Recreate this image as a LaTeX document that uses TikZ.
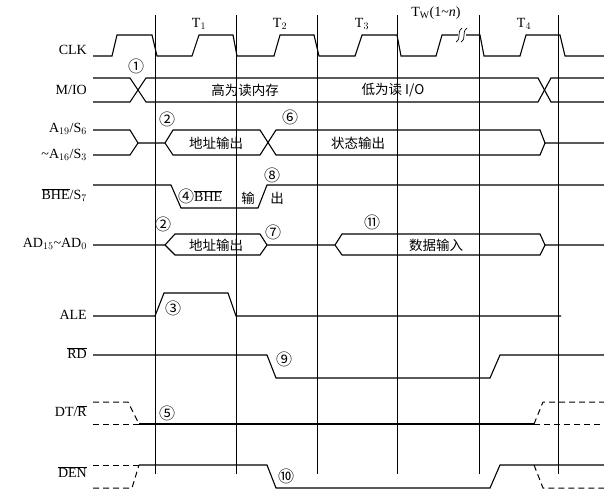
\documentclass[tikz,border=0pt]{standalone}
\usepackage{fontspec}
\setmainfont{Liberation Serif}
\newfontfamily\cjk{Noto Sans CJK SC}
\begin{document}
\begin{tikzpicture}[x=1pt,y=-1pt,
  sig/.style={line width=1.1pt},
  grid/.style={line width=0.5pt},
  dsh/.style={line width=1pt,dash pattern=on 6pt off 4pt},
  lab/.style={anchor=east,font=\fontsize{14}{15}\selectfont,inner sep=1pt},
  tx/.style={font=\cjk\fontsize{13.5}{15}\selectfont,inner sep=0pt},
  cc/.style={font=\cjk\fontsize{16}{17}\selectfont,inner sep=0pt},
  tl/.style={font=\fontsize{14}{15}\selectfont,inner sep=0pt}]
\useasboundingbox (0,0) rectangle (604,489);
\fill[white] (0,0) rectangle (604,489);
% grid
\foreach \x in {155,236,317,397,479,558} \draw[grid] (\x,15) -- (\x,474);
% T labels
\node[tl] (t1) at (199,24) {T$_1$};
\node[tl] (t2) at (280,24) {T$_2$};
\node[tl] (t3) at (362,24) {T$_3$};
\node[tl] (tw) at (436,13) {T$_{\mathrm W}$(1\char"7E\textit{n})};
\node[tl] (t4) at (524,24) {T$_4$};
% signal labels
\node[lab] (lclk) at (88,50) {CLK};
\node[lab] (lmio) at (88,90) {M/IO};
\node[lab] (la1) at (88,129) {A$_{19}$/S$_6$};
\node[lab] (la2) at (88,155) {\char"7E A$_{16}$/S$_3$};
\node[lab] (lbhe) at (88,195) {$\overline{\mathrm{BHE}}$/S$_7$};
\node[lab] (lad) at (88,244) {AD$_{15}$\char"7E AD$_0$};
\node[lab] (lale) at (88,315) {ALE};
\node[lab] (lrd) at (88,353) {$\overline{\mathrm{RD}}$};
\node[lab] (ldt) at (88,411) {DT/$\overline{\mathrm{R}}$};
\node[lab] (lden) at (88,472) {$\overline{\mathrm{DEN}}$};
% CLK
\draw[sig] (93,56) -- (112,56) -- (117,35) -- (152,35) -- (157,56) -- (192,56) -- (199,35) -- (233,35) -- (237,56)
 -- (274,56) -- (280,35) -- (314,35) -- (319,56) -- (355,56) -- (362,35) -- (397,35) -- (401,56)
 -- (436,56) -- (442,35) -- (480,35) -- (484,56) -- (520,56) -- (526,35) -- (560,35) -- (565,56) -- (604,56);
\fill[white] (458,28) rectangle (466,42);
\draw[line width=0.7pt] (456,42) .. controls (462,38) and (456,33) .. (462,28);
\draw[line width=0.7pt] (461,42) .. controls (467,38) and (461,33) .. (467,28);
% M/IO
\draw[sig] (93,78) -- (130,78) -- (146,102) -- (538,102) -- (551,78) -- (604,78);
\draw[sig] (93,102) -- (130,102) -- (146,78) -- (538,78) -- (551,102) -- (604,102);
\node[cc] (c1) at (136,66) {①};
\node[tx] (m1) at (245,90) {高为读内存};
\node[tx] (m2) at (393,90) {低为读 I/O};
% A19
\draw[sig] (93,130) -- (130,130) -- (138,143) -- (165,143) -- (173,130) -- (260,130) -- (276,155) -- (540,155) -- (545,143) -- (604,143);
\draw[sig] (93,155) -- (130,155) -- (138,143);
\draw[sig] (165,143) -- (173,155) -- (260,155) -- (276,130) -- (540,130) -- (545,143);
\node[cc] (c2) at (167,119) {②};
\node[cc] (c6) at (290,117) {⑥};
\node[tx] (a1) at (216,143) {地址输出};
\node[tx] (a2) at (358,143) {状态输出};
% BHE
\draw[sig] (93,185) -- (171,185) -- (181,208) -- (258,208) -- (267,185) -- (604,185);
\node[cc] (c4) at (186,196) {④};
\node[tl,anchor=west] (b0) at (194,196) {$\overline{\mathrm{BHE}}$};
\node[tx] (b1) at (248,198) {输};
\node[tx] (b2) at (277,198) {出};
\node[cc] (c8) at (272,175) {⑧};
% AD
\draw[sig] (93,245) -- (165,245) -- (175,234) -- (260,234) -- (267,245) -- (335,245) -- (342,234) -- (540,234) -- (545,245) -- (604,245);
\draw[sig] (165,245) -- (175,255) -- (260,255) -- (267,245);
\draw[sig] (335,245) -- (342,255) -- (540,255) -- (545,245);
\node[cc] (c2b) at (163,224) {②};
\node[cc] (c7) at (273,232) {⑦};
\node[cc] (c11) at (372,222) {⑪};
\node[tx] (d1) at (216,245) {地址输出};
\node[tx] (d2) at (436,245) {数据输入};
% ALE
\draw[sig] (93,316) -- (155,316) -- (164,293) -- (228,293) -- (236,316) -- (561,316);
\node[cc] (c3) at (173,308) {③};
% RD
\draw[sig] (93,355) -- (267,355) -- (276,378) -- (490,378) -- (500,355) -- (604,355);
\node[cc] (c9) at (284,359) {⑨};
% DT/R
\draw[dsh] (93,402) -- (128,402) -- (139,424);
\draw[dsh] (93,424) -- (139,424);
\draw[sig] (139,424) -- (534,424);
\draw[dsh] (534,424) -- (543,402) -- (604,402);
\draw[dsh] (534,424) -- (604,424);
\node[cc] (c5) at (167,413) {⑤};
% DEN
\draw[dsh] (93,465) -- (139,465);
\draw[dsh] (93,488) -- (132,488) -- (139,465);
\draw[sig] (139,465) -- (267,465) -- (276,488) -- (490,488) -- (500,465) -- (604,465);
\draw[dsh] (534,465) -- (543,488) -- (604,488);
\node[cc] (c10) at (286,476) {⑩};
\end{tikzpicture}
\end{document}
